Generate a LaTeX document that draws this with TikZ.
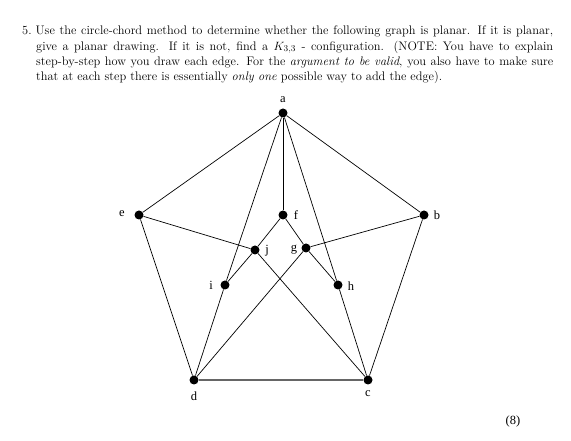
\documentclass[tikz,border=0pt]{standalone}
\usepackage{fontspec}
\newfontfamily\lblfont{Liberation Serif}
\begin{document}
\begin{tikzpicture}[x=1pt,y=1pt,
  vtx/.style={circle,fill=black,inner sep=0pt,minimum size=9pt},
  lbl/.style={font=\lblfont\fontsize{12.5}{14}\selectfont,inner sep=0pt},
  edge/.style={line width=0.7pt,black}]
\useasboundingbox (0,0) rectangle (571,441);
% text
\node[anchor=north west,inner sep=0pt,text width=531pt,align=justify,font=\fontsize{12.4}{15.2}\selectfont] (txt) at (22,415)
{\hangindent=14pt\hangafter=1 5.\hspace{4pt}Use the circle-chord method to determine whether the following graph is planar. If it is planar,\linebreak
give a planar drawing. If it is not, find a $K_{3,3}$ - configuration. (NOTE: You have to explain\linebreak
step-by-step how you draw each edge. For the \emph{argument to be valid}, you also have to make sure\linebreak
that at each step there is essentially \emph{only one} possible way to add the edge).\par};
% vertices
\node[vtx] (a) at (283,328) {};
\node[vtx] (e) at (139,226) {};
\node[vtx] (f) at (283,226) {};
\node[vtx] (b) at (424,226) {};
\node[vtx] (j) at (255,191) {};
\node[vtx] (g) at (306,193) {};
\node[vtx] (i) at (225,156) {};
\node[vtx] (h) at (338,156) {};
\node[vtx] (d) at (194,61) {};
\node[vtx] (c) at (368,61) {};
% labels
\node[lbl] (la) at (283,341) {a};
\node[lbl] (le) at (122,227) {e};
\node[lbl] (lf) at (296,226) {f};
\node[lbl] (lb) at (437,226) {b};
\node[lbl] (lj) at (267,190) {j};
\node[lbl] (lg) at (294,191) {g};
\node[lbl] (li) at (211,156) {i};
\node[lbl] (lh) at (351,155) {h};
\node[lbl] (ld) at (194,45) {d};
\node[lbl] (lc) at (368,47) {c};
\node[lbl] (l8) at (513,20) {(8)};
% edges
\draw[edge] (a) -- (e);
\draw[edge] (a) -- (b);
\draw[edge] (a) -- (i);
\draw[edge] (a) -- (f);
\draw[edge] (a) -- (h);
\draw[edge] (e) -- (j);
\draw[edge] (e) -- (d);
\draw[edge] (b) -- (g);
\draw[edge] (b) -- (c);
\draw[edge] (f) -- (j);
\draw[edge] (f) -- (g);
\draw[edge] (j) -- (i);
\draw[edge] (j) -- (c);
\draw[edge] (g) -- (h);
\draw[edge] (g) -- (d);
\draw[edge] (i) -- (d);
\draw[edge] (h) -- (c);
\draw[line width=1.3pt,gray!80!black] (d) -- (c);
\end{tikzpicture}
\end{document}
